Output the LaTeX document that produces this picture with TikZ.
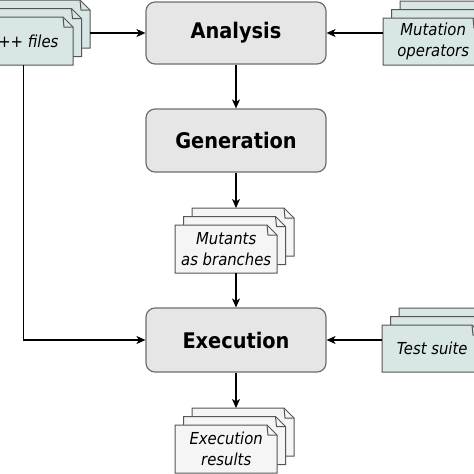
\documentclass[tikz,border=0pt]{standalone}
\usepackage{fontspec}
\setmainfont{DejaVu Sans Condensed}
\usetikzlibrary{arrows.meta}
\definecolor{docblue}{RGB}{216,230,230}
\definecolor{docwhite}{RGB}{245,245,245}
\definecolor{boxfill}{RGB}{230,230,230}
\definecolor{boxline}{RGB}{110,110,110}
\definecolor{docline}{RGB}{85,85,85}
\tikzset{
  pageshape/.style={draw=docline, line width=1pt, line join=miter},
  procbox/.style={draw=boxline, fill=boxfill, line width=1.2pt, rounded corners=9pt,
    minimum width=180pt, font=\fontsize{21.5}{24}\selectfont\bfseries, inner sep=0pt},
  doctext/.style={inner sep=0pt, align=center, font=\fontsize{16.5}{21}\selectfont\itshape},
  conn/.style={draw=black, line width=1.2pt, -{Stealth[length=9pt,width=8pt,inset=2.5pt]}},
}
% one page: #1 name, #2 x left, #3 y top, #4 width, #5 height, #6 fill
\newcommand\docpage[6]{%
  \path[pageshape, fill=#6] (#2,#3) -- (#2+#4-10,#3) -- (#2+#4,#3+10) -- (#2+#4,#3+#5) -- (#2,#3+#5) -- cycle;
  \draw[pageshape] (#2+#4-10,#3) -- (#2+#4-9,#3+10) -- (#2+#4,#3+10);
  \node[inner sep=0pt, minimum width=#4pt, minimum height=#5pt, anchor=north west] (#1) at (#2,#3) {};
}
% stack: #1 name, #2 x left (front), #3 y top (front), #4 w, #5 h, #6 fill, #7 text
\newcommand\docstack[7]{%
  \docpage{#1back}{#2+17}{#3-17}{#4}{#5}{#6}
  \docpage{#1mid}{#2+8.5}{#3-8.5}{#4}{#5}{#6}
  \docpage{#1front}{#2}{#3}{#4}{#5}{#6}
  \node[doctext] (#1) at (#1front.center) {#7};
}
\begin{document}
\begin{tikzpicture}[x=1pt,y=-1pt]
\useasboundingbox (0,0) rectangle (474,474);
\clip (0,0) rectangle (474,474);

\node[procbox, minimum height=62pt] (analysis) at (236,33) {Analysis};
\node[procbox, minimum height=63pt] (generation) at (236,140.5) {Generation};
\node[procbox, minimum height=64pt] (execution) at (236,340) {Execution};

\docstack{cpp}{-27}{17}{100}{48}{docblue}{C++ files}
\docstack{mutops}{383}{18}{100}{47}{docblue}{Mutation\\operators}
\docstack{mutants}{175}{225}{102}{48}{docwhite}{Mutants\\as branches}
\docstack{tests}{382}{325}{100}{47}{docblue}{Test suite}
\docstack{results}{175}{425}{102}{48}{docwhite}{Execution\\results}

\draw[conn] (analysis.west -| cppback.east) -- (analysis.west);
\draw[conn] (analysis.east -| mutopsfront.west) -- (analysis.east);
\draw[conn] (analysis.south) -- (generation.north);
\draw[conn] (generation.south) -- (generation.south |- mutantsback.north);
\draw[conn] (mutantsfront.south -| execution.north) -- (execution.north);
\draw[conn] (cppfront.south) |- (execution.west);
\draw[conn] (execution.east -| testsfront.west) -- (execution.east);
\draw[conn] (execution.south) -- (execution.south |- resultsback.north);
\end{tikzpicture}
\end{document}
